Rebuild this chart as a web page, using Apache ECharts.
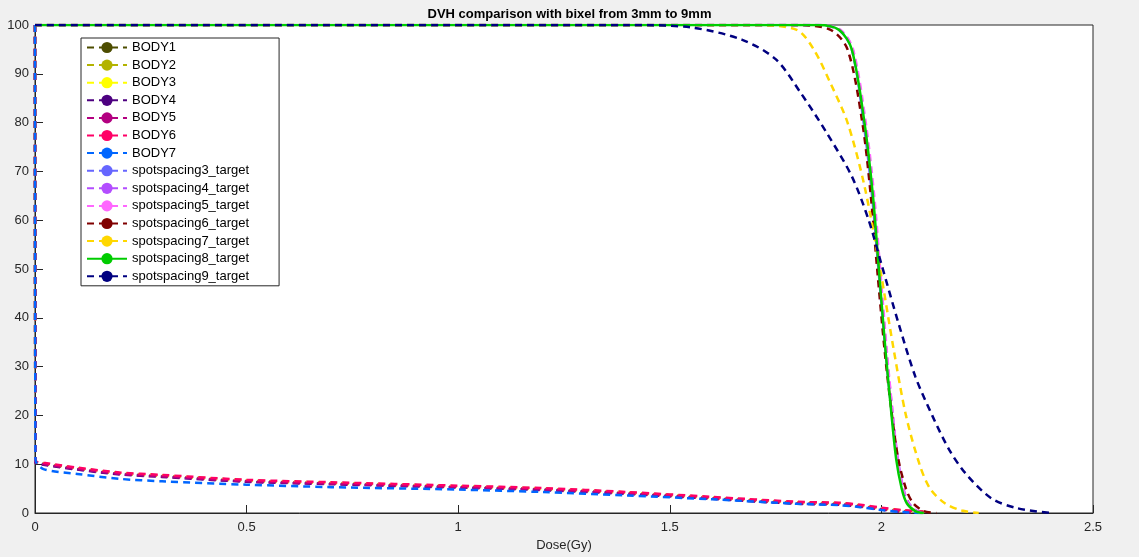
<!DOCTYPE html>
<html>
<head>
<meta charset="utf-8">
<script src="https://cdn.jsdelivr.net/npm/echarts@6/dist/echarts.min.js"></script>
<style>html,body{margin:0;background:#f0f0f0;}#main{width:1139px;height:557px;}</style>
</head>
<body>
<div id="main"></div>
<script>
var names = ['BODY1','BODY2','BODY3','BODY4','BODY5','BODY6','BODY7',
  'spotspacing3_target','spotspacing4_target','spotspacing5_target','spotspacing6_target',
  'spotspacing7_target','spotspacing8_target','spotspacing9_target'];
var colors = ['#4d4d00','#b3b300','#ffff00','#4d0080','#b30080','#ff0066','#0066ff',
  '#6666ff','#b34dff','#ff66ff','#800000','#ffd700','#00cc00','#000080'];

// dose axis points and volume values
var bodyX = [0,0.001,0.02,0.1,0.2,0.3,0.5,0.7,1.0,1.2,1.4,1.6,1.8,1.9,1.95,2.0,2.05,2.1];
var bodyY = [100,10.5,10,9,8,7.5,6.5,6,5.3,4.8,4,3,2,1.8,1.4,0.8,0.3,0];
var body7Y = [100,11,9,8,7,6.5,5.8,5.3,4.8,4.3,3.6,2.8,1.9,1.6,1.2,0.6,0.2,0];

var t8X = [0,1.85,1.9,1.93,1.96,1.98,1.994,2.01,2.024,2.035,2.048,2.06,2.08,2.1];
var t8Y = [100,100,99,95,80,65,50,33,20,11,5,2,0.4,0];
var t4X = [0,1.85,1.9,1.93,1.958,1.978,1.993,2.01,2.025,2.037,2.05,2.063,2.083,2.1];
var t6X = [0,1.8,1.88,1.92,1.955,1.975,1.99,2.008,2.025,2.04,2.058,2.075,2.1,2.13];
var t7X = [0,1.7,1.8,1.84,1.88,1.92,1.96,1.997,2.03,2.058,2.09,2.115,2.15,2.19,2.23];
var t7Y = [100,100,99,95,88,80,67,50,33,20,10,5,2,0.5,0];
var t9X = [0,1.4,1.55,1.67,1.75,1.81,1.87,1.93,1.97,2.0,2.04,2.08,2.12,2.16,2.2,2.26,2.32,2.4];
var t9Y = [100,100,99.5,97,93,86,78,69,60,51,39,28,20,13,8,3,1,0];

function zip(xs, ys, dx, dy) {
  return xs.map(function (x, i) { return [i > 0 ? x + (dx || 0) : x, Math.max(0, ys[i] + (i > 0 ? (dy || 0) : 0))]; });
}

var curves = [
  zip(bodyX, bodyY, 0, 0.1), zip(bodyX, bodyY, 0, 0.2), zip(bodyX, bodyY, 0, 0.15),
  zip(bodyX, bodyY, 0, -0.1), zip(bodyX, bodyY, 0, 0), zip(bodyX, bodyY, 0, 0.3),
  zip(bodyX, body7Y),
  zip(t4X, t8Y), zip(t4X, t8Y, 0.002), zip(t8X, t8Y, 0.003), zip(t6X, t8Y),
  zip(t7X, t7Y), zip(t8X, t8Y), zip(t9X, t9Y)
];

var series = names.map(function (n, i) {
  return {
    name: n, type: 'line', data: curves[i], showSymbol: false, symbol: 'none',
    smooth: 0.3, animation: false,
    lineStyle: { color: colors[i], width: 2.5, type: i === 12 ? 'solid' : [7, 5] },
    itemStyle: { color: colors[i] }
  };
});

var myChart = echarts.init(document.getElementById('main'));
myChart.setOption({
  backgroundColor: '#f0f0f0',
  title: {
    text: 'DVH comparison with bixel from 3mm to 9mm', left: 'center', top: 3,
    textStyle: { fontFamily: 'Liberation Sans', fontSize: 13, fontWeight: 'bold', color: '#000' }
  },
  legend: {
    orient: 'vertical', left: 81, top: 38, itemGap: 4.6, itemWidth: 40, itemHeight: 14,
    backgroundColor: '#fff', borderColor: '#262626', borderWidth: 1, borderRadius: 0, padding: [3, 30, 3, 5],
    textStyle: { fontFamily: 'Liberation Sans', fontSize: 13, color: '#000' },
    data: names
  },
  grid: { left: 35, right: 46, top: 25, bottom: 43, show: true, borderColor: '#262626', borderWidth: 1, backgroundColor: '#fff' },
  xAxis: {
    type: 'value', min: 0, max: 2.5, interval: 0.5, name: 'Dose(Gy)', nameLocation: 'middle', nameGap: 26,
    nameTextStyle: { fontFamily: 'Liberation Sans', fontSize: 13, color: '#262626' },
    axisLine: { lineStyle: { color: '#262626' } },
    axisTick: { inside: true, length: 8, lineStyle: { color: '#262626' } },
    axisLabel: { fontFamily: 'Liberation Sans', fontSize: 13, color: '#262626', margin: 8 },
    splitLine: { show: false }
  },
  yAxis: {
    type: 'value', min: 0, max: 100, interval: 10,
    axisLine: { show: true, lineStyle: { color: '#262626' } },
    axisTick: { show: true, inside: true, length: 8, lineStyle: { color: '#262626' } },
    axisLabel: { fontFamily: 'Liberation Sans', fontSize: 13, color: '#262626', margin: 6 },
    splitLine: { show: false }
  },
  series: series
});
</script>
</body>
</html>
